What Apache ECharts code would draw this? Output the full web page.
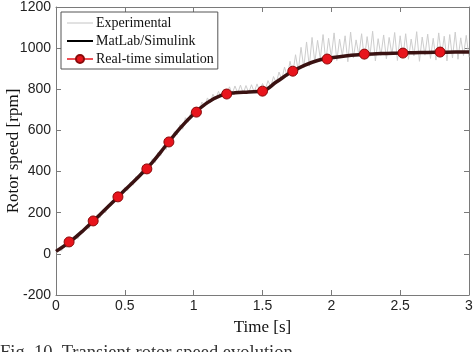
<!DOCTYPE html>
<html>
<head>
<meta charset="utf-8">
<script src="https://cdn.jsdelivr.net/npm/echarts@6/dist/echarts.min.js"></script>
<style>
  html, body { margin: 0; padding: 0; background: #fff; }
  #main { width: 474px; height: 352px; }
</style>
</head>
<body>
<div id="main"></div>
<script>
// time step of the measured signal [s]
const expStep = 0.02;
// measured rotor speed (noisy), one value every 0.02 s from 0 to 3 s
const experimental = [
  5, 24, 14, 42, 30, 66, 52, 86, 74, 108,
  104, 136, 122, 162, 150, 190, 176, 214, 200, 240,
  232, 268, 252, 296, 284, 322, 308, 350, 334, 376,
  364, 404, 386, 432, 414, 462, 444, 492, 476, 526,
  506, 560, 540, 594, 578, 628, 606, 662, 640, 690,
  676, 714, 694, 738, 716, 758, 734, 776, 748, 790,
  762, 800, 772, 812, 778, 816, 782, 820, 780, 818,
  784, 822, 786, 826, 790, 828, 798, 842, 812, 862,
  830, 884, 846, 908, 862, 936, 876, 968, 890, 1004,
  904, 1030, 912, 1052, 930, 1038, 948, 1066, 936, 1048,
  958, 1074, 940, 1044, 962, 1060, 934, 1078, 952, 1040,
  966, 1070, 944, 1056, 960, 1082, 938, 1046, 964, 1064,
  948, 1052, 968, 1076, 940, 1060, 956, 1070, 946, 1044,
  962, 1080, 936, 1054, 966, 1068, 950, 1048, 942, 1074,
  960, 1058, 938, 1066, 952, 1078, 946, 1050, 964, 1062,
  956
];

// MatLab/Simulink model, every 0.1 s
const simTime = [0, 0.1, 0.2, 0.3, 0.4, 0.5, 0.6, 0.7, 0.8, 0.9, 1.0, 1.1, 1.2, 1.3, 1.4, 1.5,
  1.6, 1.7, 1.8, 1.9, 2.0, 2.1, 2.2, 2.3, 2.4, 2.5, 2.6, 2.7, 2.8, 2.9, 3.0];
const simSpeed = [12, 58, 115, 178, 243, 310, 375, 445, 528, 610, 680, 735, 770, 783, 787, 792,
  835, 880, 915, 940, 953, 962, 968, 972, 974, 976, 978, 979, 980, 981, 981];

// real-time simulation samples (markers)
const rtTime = [0.095, 0.27, 0.45, 0.66, 0.82, 1.02, 1.24, 1.50, 1.72, 1.97, 2.24, 2.52, 2.79];
const rtSpeed = [58, 160, 277, 413, 544, 689, 777, 791, 888, 947, 971, 976, 981];

const expData = experimental.map((v, i) => [+(i * expStep).toFixed(2), v]);
const simData = simTime.map((t, i) => [t, simSpeed[i]]);
const rtData = rtTime.map((t, i) => [t, rtSpeed[i]]);

const serif = 'Liberation Serif';
const sans = 'Liberation Sans';
const frame = '#7a7a7a';

var myChart = echarts.init(document.getElementById('main'));
myChart.setOption({
  animation: false,
  backgroundColor: '#fff',
  grid: { left: 56, right: 5, top: 7, bottom: 57, containLabel: false, outerBoundsMode: 'none' },
  legend: {
    orient: 'vertical',
    left: 61, top: 12,
    itemWidth: 26, itemHeight: 10, itemGap: 4,
    padding: [4, 4, 3, 5],
    backgroundColor: '#fff',
    borderColor: '#555', borderWidth: 1,
    textStyle: { fontFamily: serif, fontSize: 14, color: '#111', padding: [0, 0, 0, -2] },
    data: [
      { name: 'Experimental', itemStyle: { opacity: 0 }, lineStyle: { color: '#c4c4c4', width: 1 } },
      { name: 'MatLab/Simulink', itemStyle: { opacity: 0 }, lineStyle: { color: '#000', width: 2 } },
      { name: 'Real-time simulation', lineStyle: { color: '#e8141c', width: 1.5, opacity: 1 } }
    ]
  },
  xAxis: [{
    type: 'value', min: 0, max: 3, interval: 0.5,
    name: 'Time [s]', nameLocation: 'middle', nameGap: 24, nameMoveOverlap: false,
    nameTextStyle: { fontFamily: serif, fontSize: 17, color: '#111' },
    axisLine: { onZero: false, lineStyle: { color: frame } },
    axisTick: { inside: true, length: 5, lineStyle: { color: frame } },
    axisLabel: { fontFamily: sans, fontSize: 14, color: '#222', margin: 4, formatter: v => String(v) },
    splitLine: { show: false }
  }, {
    type: 'value', min: 0, max: 3, interval: 0.5, position: 'top',
    axisLine: { onZero: false, lineStyle: { color: frame } },
    axisTick: { inside: true, length: 5, lineStyle: { color: frame } },
    axisLabel: { show: false }, splitLine: { show: false }
  }],
  yAxis: [{
    type: 'value', min: -200, max: 1200, interval: 200,
    name: 'Rotor speed [rpm]', nameLocation: 'middle', nameGap: 34, nameMoveOverlap: false,
    nameTextStyle: { fontFamily: serif, fontSize: 17, color: '#111' },
    axisLine: { show: true, onZero: false, lineStyle: { color: frame } },
    axisTick: { show: true, inside: true, length: 5, lineStyle: { color: frame } },
    axisLabel: { fontFamily: sans, fontSize: 14, color: '#222', margin: 5, formatter: v => String(v) },
    splitLine: { show: false }
  }, {
    type: 'value', min: -200, max: 1200, interval: 200, position: 'right',
    axisLine: { show: true, onZero: false, lineStyle: { color: frame } },
    axisTick: { show: true, inside: true, length: 5, lineStyle: { color: frame } },
    axisLabel: { show: false }, splitLine: { show: false }
  }],
  series: [{
    name: 'Experimental', type: 'line', data: expData,
    showSymbol: false, symbol: 'none', z: 1,
    lineStyle: { color: '#cdcdcd', width: 1 }, itemStyle: { color: '#cdcdcd' }
  }, {
    name: 'MatLab/Simulink', type: 'line', data: simData, smooth: 0.4,
    showSymbol: false, symbol: 'none', z: 2,
    lineStyle: { color: '#3a1212', width: 3.5 }, itemStyle: { color: '#000' }
  }, {
    name: 'Real-time simulation', type: 'line', data: rtData, z: 3,
    symbol: 'circle', symbolSize: 10, showAllSymbol: true,
    lineStyle: { color: '#e8141c', width: 1.5, opacity: 0 },
    itemStyle: { color: '#e8141c', borderColor: '#8a0a0a', borderWidth: 1 }
  }],
  graphic: [{
    type: 'text', left: 0, top: 344,
    style: { text: 'Fig. 10. Transient rotor speed evolution', font: '18.5px "Liberation Serif"', fill: '#333' }
  }]
});
</script>
</body>
</html>
